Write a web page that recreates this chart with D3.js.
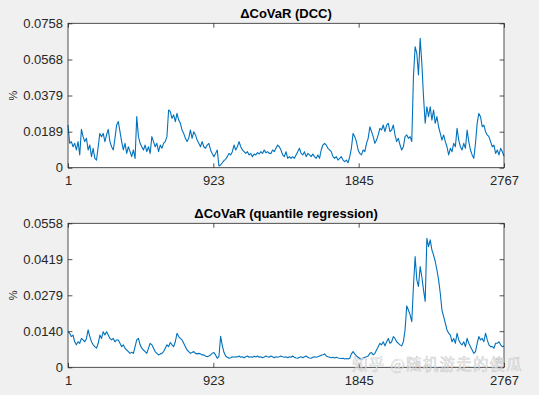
<!DOCTYPE html>
<html><head><meta charset="utf-8">
<script src="https://cdn.jsdelivr.net/npm/d3@7/dist/d3.min.js"></script>
<style>html,body{margin:0;padding:0;background:#f0f0f0;overflow:hidden}</style>
</head><body><svg id="c" width="539" height="395"></svg>
<script>
// ---------------- data ----------------
const firstDay = 1, lastDay = 2767;
const xTicks = [1, 923, 1845, 2767];
const titles = ["\u0394CoVaR (DCC)", "\u0394CoVaR (quantile regression)"];
const yLabel = "%";
const watermark = "知乎 @随机游走的傻瓜";

const dccTicks = [0, 0.0189, 0.0379, 0.0568, 0.0758];
const qrTicks = [0, 0.0140, 0.0279, 0.0419, 0.0558];

// ΔCoVaR (DCC), evenly spaced samples across days 1..2767
const dccValues = [
0.0224,0.0128,0.0137,0.0110,0.0128,0.0093,0.0137,0.0067,0.0201,0.0163,0.0137,0.0154,0.0093,0.0119,0.0058,0.0102,0.0049,0.0040,0.0110,0.0180,
0.0163,0.0180,0.0137,0.0172,0.0201,0.0137,0.0110,0.0093,0.0154,0.0224,0.0242,0.0189,0.0137,0.0093,0.0128,0.0075,0.0110,0.0084,0.0058,0.0093,
0.0049,0.0268,0.0163,0.0128,0.0110,0.0093,0.0119,0.0084,0.0110,0.0075,0.0163,0.0137,0.0110,0.0128,0.0084,0.0119,0.0102,0.0128,0.0137,0.0163,
0.0303,0.0294,0.0259,0.0277,0.0242,0.0285,0.0250,
0.0233,0.0198,0.0180,0.0154,0.0137,0.0154,0.0198,0.0154,0.0189,0.0172,0.0145,0.0128,0.0110,0.0137,0.0110,0.0102,0.0119,0.0128,0.0093,0.0075,
0.0058,0.0075,0.0093,0.0009,0.0014,0.0026,0.0037,0.0044,0.0058,0.0075,0.0067,0.0084,0.0119,0.0093,0.0110,0.0137,0.0110,0.0093,0.0084,0.0075,
0.0084,0.0067,0.0075,0.0058,0.0072,0.0067,0.0079,0.0072,0.0084,0.0075,0.0093,0.0079,0.0084,0.0075,0.0075,0.0093,0.0084,0.0102,0.0119,0.0110,
0.0093,
0.0067,0.0058,0.0084,0.0049,0.0058,0.0049,0.0058,0.0049,0.0067,0.0084,0.0102,0.0075,0.0067,0.0084,0.0058,0.0075,0.0067,0.0058,0.0072,0.0058,
0.0049,0.0067,0.0049,0.0093,0.0119,0.0128,0.0119,0.0102,0.0093,0.0084,0.0058,0.0049,0.0058,0.0040,0.0049,0.0058,0.0040,0.0032,0.0040,0.0026,
0.0058,0.0102,0.0180,0.0163,0.0137,0.0093,0.0075,0.0067,0.0093,0.0084,0.0128,0.0154,0.0215,0.0189,0.0163,0.0128,0.0145,0.0172,0.0207,0.0198,
0.0224,0.0189,0.0224,0.0233,0.0189,
0.0198,0.0224,0.0172,0.0137,0.0154,0.0119,0.0093,0.0110,0.0163,0.0172,0.0154,0.0163,0.0137,0.0478,0.0635,0.0600,0.0487,0.0679,0.0548,0.0373,
0.0233,0.0320,0.0268,0.0320,0.0250,0.0303,0.0233,0.0268,0.0215,0.0180,0.0145,0.0172,0.0137,0.0110,0.0067,0.0102,0.0084,0.0128,0.0110,0.0207,
0.0145,0.0110,0.0093,0.0128,0.0102,0.0198,0.0137,0.0093,0.0067,0.0049,0.0128,0.0233,0.0285,0.0268,0.0215,0.0224,0.0189,0.0172,0.0163,0.0137,
0.0110,0.0119,0.0075,0.0093,0.0067,0.0102,0.0084,0.0061
];

// ΔCoVaR (quantile regression), evenly spaced samples across days 1..2767
const qrValues = [
0.0138,0.0132,0.0119,0.0125,0.0099,0.0087,0.0099,0.0093,0.0112,0.0106,0.0099,0.0112,0.0145,0.0119,0.0099,0.0087,0.0080,0.0074,0.0093,0.0125,
0.0112,0.0138,0.0125,0.0138,0.0125,0.0112,0.0106,0.0112,0.0099,0.0106,0.0106,0.0093,0.0080,0.0087,0.0074,0.0067,0.0061,0.0054,0.0058,0.0054,
0.0080,0.0106,0.0112,0.0087,0.0074,0.0067,0.0061,0.0054,0.0074,0.0093,0.0087,0.0074,0.0061,0.0054,0.0048,0.0052,0.0054,0.0061,0.0074,0.0087,
0.0080,0.0096,0.0087,0.0080,0.0099,0.0132,0.0119,
0.0112,0.0106,0.0093,0.0080,0.0067,0.0061,0.0054,0.0057,0.0061,0.0054,0.0052,0.0054,0.0052,0.0048,0.0048,0.0044,0.0041,0.0044,0.0048,0.0054,
0.0057,0.0048,0.0035,0.0041,0.0120,0.0085,0.0058,0.0044,0.0039,0.0035,0.0037,0.0041,0.0039,0.0041,0.0040,0.0044,0.0039,0.0041,0.0037,0.0041,
0.0044,0.0039,0.0041,0.0039,0.0043,0.0040,0.0044,0.0039,0.0041,0.0037,0.0040,0.0044,0.0041,0.0039,0.0044,0.0041,0.0037,0.0041,0.0039,0.0041,
0.0044,
0.0041,0.0039,0.0041,0.0037,0.0041,0.0039,0.0044,0.0039,0.0036,0.0035,0.0039,0.0041,0.0037,0.0041,0.0044,0.0039,0.0036,0.0035,0.0039,0.0041,
0.0039,0.0041,0.0044,0.0047,0.0049,0.0052,0.0044,0.0041,0.0039,0.0037,0.0039,0.0036,0.0039,0.0036,0.0035,0.0034,0.0035,0.0032,0.0034,0.0032,
0.0035,0.0052,0.0061,0.0052,0.0044,0.0039,0.0034,0.0031,0.0035,0.0039,0.0041,0.0044,0.0054,0.0057,0.0048,0.0054,0.0067,0.0080,0.0093,0.0087,
0.0099,0.0083,0.0099,0.0112,0.0093,
0.0099,0.0119,0.0112,0.0099,0.0093,0.0087,0.0083,0.0099,0.0145,0.0238,0.0222,0.0203,0.0177,0.0313,0.0429,0.0339,0.0313,0.0390,0.0351,0.0300,
0.0255,0.0500,0.0468,0.0494,0.0455,0.0435,0.0410,0.0377,0.0339,0.0287,0.0222,0.0196,0.0171,0.0145,0.0132,0.0125,0.0099,0.0112,0.0093,0.0132,
0.0106,0.0093,0.0087,0.0099,0.0080,0.0112,0.0093,0.0080,0.0067,0.0054,0.0061,0.0093,0.0119,0.0106,0.0112,0.0099,0.0132,0.0106,0.0087,0.0080,
0.0080,0.0074,0.0093,0.0093,0.0099,0.0087,0.0080,0.0083
];

// ---------------- drawing ----------------
const svg = d3.select("#c");
const FONT = "'Liberation Sans', Arial, Helvetica, sans-serif";
const INK = "#262626";
const LINE = "#0072BD";
const left = 68, right = 504;

const panels = [
  {title: titles[0], values: dccValues, ticks: dccTicks, top: 23.3, bottom: 167.7},
  {title: titles[1], values: qrValues, ticks: qrTicks, top: 223.3, bottom: 367.3}
];

const x = d3.scaleLinear().domain([firstDay, lastDay]).range([left, right]);
const tickLen = 4.4;
const fmtY = d => d === 0 ? "0" : d.toFixed(4);

panels.forEach(p => {
  const y = d3.scaleLinear().domain([p.ticks[0], p.ticks[p.ticks.length - 1]]).range([p.bottom, p.top]);
  const g = svg.append("g");
  g.append("rect").attr("x", left).attr("y", p.top).attr("width", right - left)
    .attr("height", p.bottom - p.top).attr("fill", "#fff");

  const n = p.values.length;
  const pts = p.values.map((v, i) => [firstDay + i * (lastDay - firstDay) / (n - 1), v]);
  g.append("path").datum(pts)
    .attr("fill", "none").attr("stroke", LINE).attr("stroke-width", 1.1)
    .attr("stroke-linejoin", "round")
    .attr("d", d3.line().x(d => x(d[0])).y(d => y(d[1])));

  const styleAxis = sel => {
    sel.select(".domain").remove();
    sel.selectAll(".tick line").attr("stroke", INK).attr("stroke-width", 0.8);
    sel.selectAll(".tick text").attr("fill", INK).style("font-family", FONT).style("font-size", "13px");
  };
  g.append("g").attr("transform", `translate(${left},0)`)
    .call(d3.axisLeft(y).tickValues(p.ticks).tickFormat(fmtY).tickSize(-tickLen).tickPadding(5))
    .call(styleAxis);
  g.append("g").attr("transform", `translate(${right},0)`)
    .call(d3.axisRight(y).tickValues(p.ticks).tickFormat("").tickSize(-tickLen))
    .call(styleAxis);
  g.append("g").attr("transform", `translate(0,${p.bottom})`)
    .call(d3.axisBottom(x).tickValues(xTicks).tickFormat(d3.format("d")).tickSize(-tickLen).tickPadding(8.5))
    .call(styleAxis);
  g.append("g").attr("transform", `translate(0,${p.top})`)
    .call(d3.axisTop(x).tickValues(xTicks).tickFormat("").tickSize(-tickLen))
    .call(styleAxis);

  g.append("rect").attr("x", left).attr("y", p.top).attr("width", right - left)
    .attr("height", p.bottom - p.top).attr("fill", "none").attr("stroke", INK).attr("stroke-width", 0.8);

  g.append("text").text(p.title)
    .attr("x", (left + right) / 2).attr("y", p.top - 5)
    .attr("text-anchor", "middle").attr("fill", "#000")
    .style("font-family", FONT).style("font-size", "13px").style("font-weight", "bold");

  g.append("text").text(yLabel)
    .attr("transform", `translate(16.5,${(p.top + p.bottom) / 2}) rotate(-90)`)
    .attr("text-anchor", "middle").attr("fill", INK)
    .style("font-family", FONT).style("font-size", "11px");
});

svg.append("text").text(watermark)
  .attr("x", 523).attr("y", 369.5).attr("text-anchor", "end")
  .attr("fill", "rgba(255,255,255,0.8)").attr("stroke", "rgba(140,140,140,0.45)").attr("stroke-width", 0.6)
  .style("font-family", "'Noto Sans CJK SC', sans-serif").style("font-size", "15.5px")
  .style("letter-spacing", "1.2px");
</script>
</body></html>
